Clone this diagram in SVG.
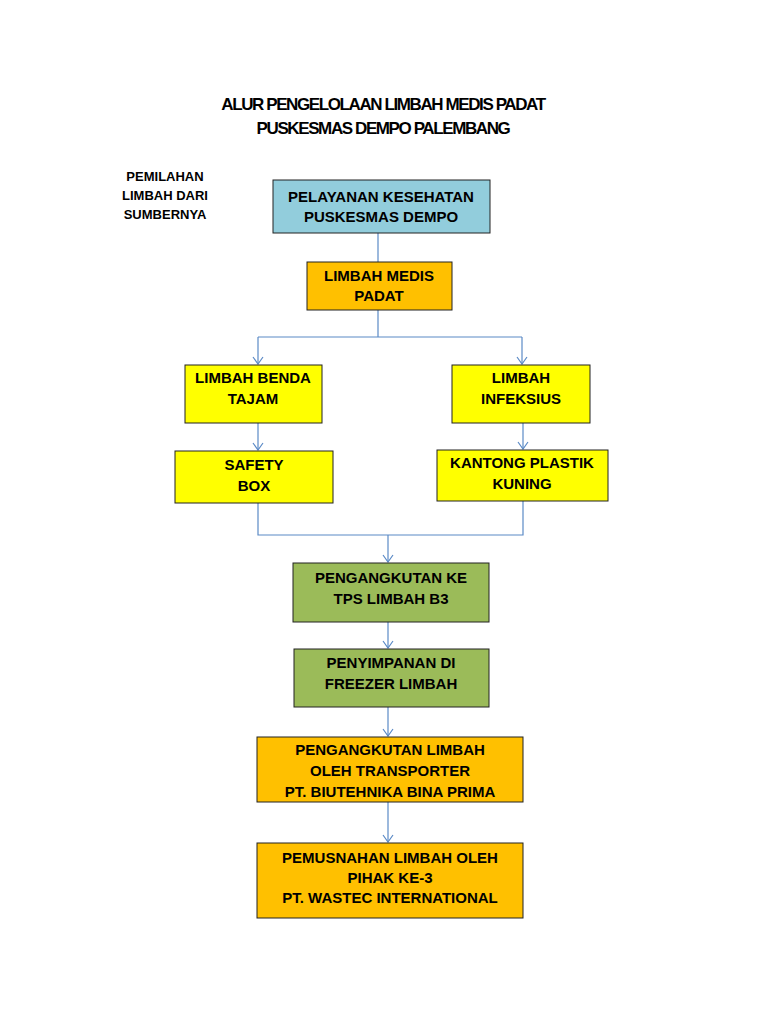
<svg xmlns="http://www.w3.org/2000/svg" width="768" height="1024" viewBox="0 0 768 1024">
<style>
text{font-family:"Liberation Sans",Arial,sans-serif;font-weight:bold;font-size:15px;fill:#000;text-anchor:middle}
.t{font-size:17px;letter-spacing:-1.4px}
.s{font-size:13px}
.n rect{stroke:#222;stroke-width:1}
.c line,.c path{stroke:#5b8ac6;stroke-width:1.2;fill:none}
</style>
<defs><marker id="a" markerWidth="12" markerHeight="12" refX="11" refY="6" orient="auto" markerUnits="userSpaceOnUse" viewBox="0 0 12 12"><path d="M4,1 L11,6 L4,11" fill="none" stroke="#5b8ac6" stroke-width="1.2"/></marker></defs>
<rect width="768" height="1024" fill="#fff"/>
<text class="t" x="383" y="110">ALUR PENGELOLAAN LIMBAH MEDIS PADAT</text>
<text class="t" x="383" y="134">PUSKESMAS DEMPO PALEMBANG</text>
<g id="side"><text class="s" x="165" y="181">PEMILAHAN</text><text class="s" x="165" y="200">LIMBAH DARI</text><text class="s" x="165" y="219">SUMBERNYA</text></g>
<g class="c">
<line x1="378" y1="233" x2="378" y2="262"/>
<path d="M378,310 V337 M258,337 H522"/>
<line x1="258" y1="337" x2="258" y2="364" marker-end="url(#a)"/>
<line x1="522" y1="337" x2="522" y2="364" marker-end="url(#a)"/>
<line x1="258" y1="423" x2="258" y2="450" marker-end="url(#a)"/>
<line x1="523" y1="423" x2="523" y2="449" marker-end="url(#a)"/>
<path d="M258,503 V535 H523 V501"/>
<line x1="388" y1="535" x2="388" y2="562" marker-end="url(#a)"/>
<line x1="388" y1="622" x2="388" y2="648" marker-end="url(#a)"/>
<line x1="388" y1="707" x2="388" y2="736" marker-end="url(#a)"/>
<line x1="388" y1="802" x2="388" y2="842" marker-end="url(#a)"/>
</g>
<g class="n">
<g id="n1"><rect x="273" y="180" width="217" height="53" fill="#92cddc"/><text x="381" y="202">PELAYANAN KESEHATAN</text><text x="381" y="222">PUSKESMAS DEMPO</text></g>
<g id="n2"><rect x="307" y="262" width="145" height="48" fill="#ffc000"/><text x="379" y="281">LIMBAH MEDIS</text><text x="379" y="301">PADAT</text></g>
<g id="n3"><rect x="185" y="365" width="137" height="58" fill="#ffff00"/><text x="253" y="383">LIMBAH BENDA</text><text x="253" y="404">TAJAM</text></g>
<g id="n4"><rect x="452" y="365" width="138" height="58" fill="#ffff00"/><text x="521" y="383">LIMBAH</text><text x="521" y="404">INFEKSIUS</text></g>
<g id="n5"><rect x="175" y="451" width="158" height="52" fill="#ffff00"/><text x="254" y="470">SAFETY</text><text x="254" y="491">BOX</text></g>
<g id="n6"><rect x="437" y="450" width="171" height="51" fill="#ffff00"/><text x="522" y="468">KANTONG PLASTIK</text><text x="522" y="489">KUNING</text></g>
<g id="n7"><rect x="293" y="563" width="196" height="59" fill="#9bbb59"/><text x="391" y="583">PENGANGKUTAN KE</text><text x="391" y="604">TPS LIMBAH B3</text></g>
<g id="n8"><rect x="294" y="649" width="195" height="58" fill="#9bbb59"/><text x="391" y="668">PENYIMPANAN DI</text><text x="391" y="689">FREEZER LIMBAH</text></g>
<g id="n9"><rect x="257" y="737" width="266" height="65" fill="#ffc000"/><text x="390" y="755">PENGANGKUTAN LIMBAH</text><text x="390" y="776">OLEH TRANSPORTER</text><text x="390" y="797">PT. BIUTEHNIKA BINA PRIMA</text></g>
<g id="n10"><rect x="257" y="843" width="266" height="75" fill="#ffc000"/><text x="390" y="863">PEMUSNAHAN LIMBAH OLEH</text><text x="390" y="883">PIHAK KE-3</text><text x="390" y="903">PT. WASTEC INTERNATIONAL</text></g>
</g>
</svg>
